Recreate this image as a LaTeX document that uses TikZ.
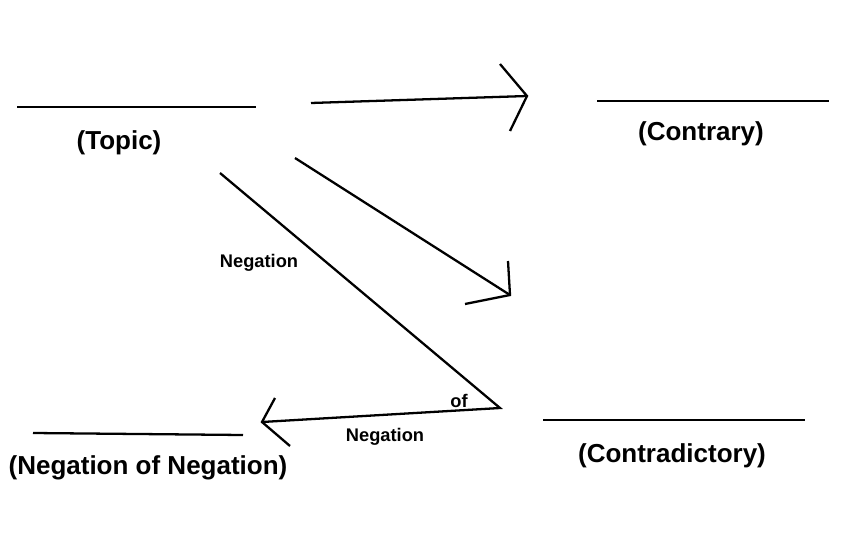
\documentclass[tikz,border=0pt]{standalone}
\usepackage{fontspec}
\setmainfont{Liberation Sans}
\tikzset{
  stroke/.style={line width=1.3pt},
  big/.style={font=\bfseries\fontsize{14.8}{17}\selectfont},
  small/.style={font=\bfseries\fontsize{10.4}{12}\selectfont}
}
\begin{document}
\begin{tikzpicture}[x=0.02cm,y=-0.02cm]
    \useasboundingbox (0,0) rectangle (862,551);
    % blanks and their labels
    \coordinate (tl) at (17,107);  \coordinate (tr) at (256,107);  \node[big] (topic) at (119,143) {(Topic)};
    \coordinate (cl) at (597,101); \coordinate (cr) at (829,101);  \node[big] (contrary) at (701,134) {(Contrary)};
    \coordinate (dl) at (543,420); \coordinate (dr) at (805,420);  \node[big] (contra) at (672,456) {(Contradictory)};
    \coordinate (nl) at (33,433);  \coordinate (nr) at (243,435);  \node[big] (negneg) at (148,468) {(Negation of Negation)};
    \draw[stroke] (tl) -- (tr); \draw[stroke] (cl) -- (cr);
    \draw[stroke] (dl) -- (dr); \draw[stroke] (nl) -- (nr);
    % arrow to contrary
    \coordinate (a1s) at (311,103); \coordinate (a1e) at (527,96);
    \coordinate (a1u) at (500,64);  \coordinate (a1d) at (510,131);
    \draw[stroke] (a1s) -- (a1e); \draw[stroke] (a1u) -- (a1e) -- (a1d);
    % arrow to contradictory
    \coordinate (a2s) at (295,158); \coordinate (a2e) at (510,295);
    \coordinate (a2u) at (508,261); \coordinate (a2d) at (465,304);
    \draw[stroke] (a2s) -- (a2e); \draw[stroke] (a2u) -- (a2e) -- (a2d);
    % negation of negation
    \coordinate (a3s) at (220,173); \coordinate (a3m) at (500,408); \coordinate (a3e) at (262,422);
    \coordinate (a3u) at (275,398); \coordinate (a3d) at (290,446);
    \draw[stroke] (a3s) -- (a3m) -- (a3e); \draw[stroke] (a3u) -- (a3e) -- (a3d);
    \node[small] (neg1) at (259,263) {Negation};
    \node[small] (of) at (459,401) {of};
    \node[small] (neg2) at (385,437) {Negation};
\end{tikzpicture}
\end{document}
